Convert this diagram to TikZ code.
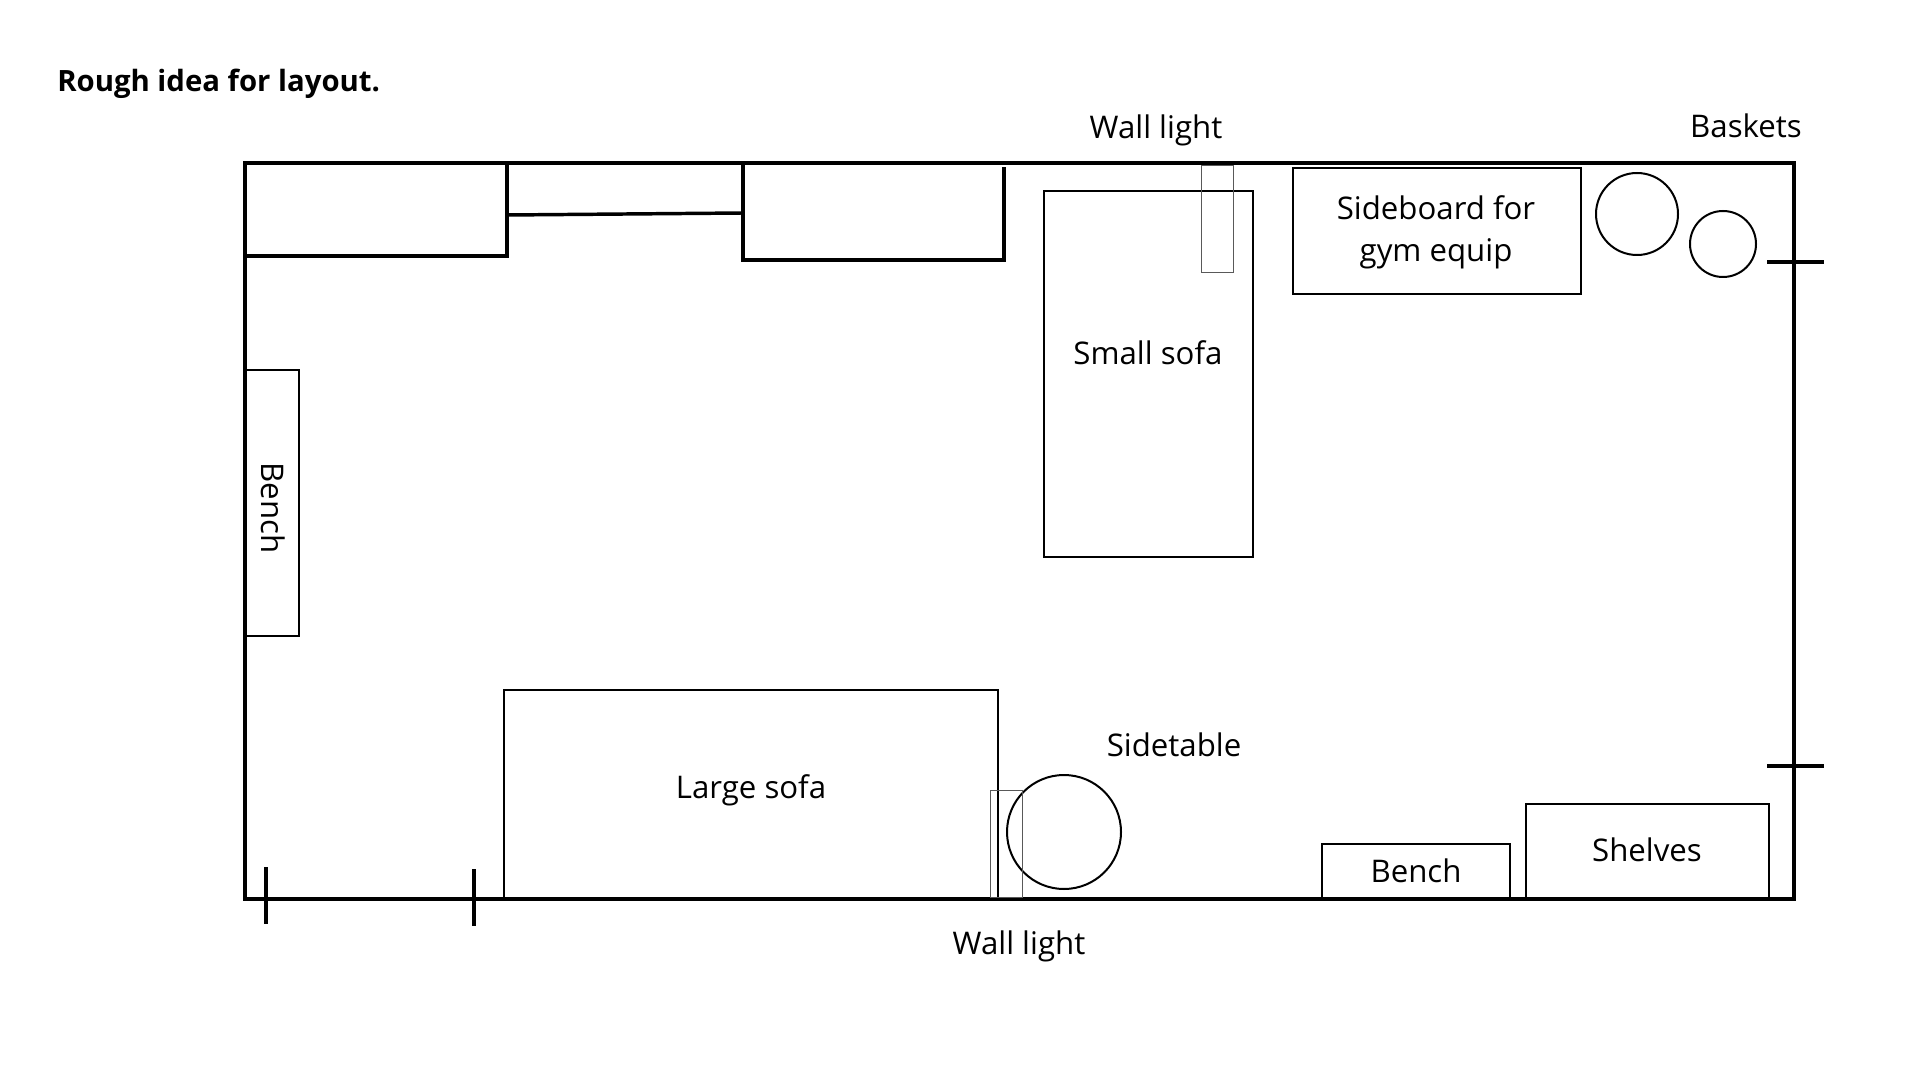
\documentclass[tikz,border=0pt]{standalone}
\usepackage{fontspec}
\setmainfont{Open Sans}
\tikzset{
  wall/.style={line width=3pt,black,line cap=butt,line join=miter},
  inner wall/.style={line width=2.6pt,black,line join=miter},
  furniture/.style={line width=1.5pt,black},
  lamp/.style={line width=0.6pt,black!65},
  label/.style={inner sep=0pt,font=\fontsize{23.4}{28}\selectfont,text=black,align=center},
}
\begin{document}
\begin{tikzpicture}[x=0.75pt,y=-0.75pt]
\useasboundingbox[fill=white] (0,0) rectangle (1920,1080);
% room
\draw[wall] (245,163.5) rectangle (1794,899);
% alcoves along the top wall
\draw[inner wall] (245,256) -- (507,256) -- (507,163.5);
\draw[inner wall] (507,215) -- (743,213);
\draw[inner wall] (743,163.5) -- (743,260) -- (1004,260) -- (1004,167);
% wall ticks
\draw[inner wall] (1767,262) -- (1824,262);
\draw[inner wall] (1767,766) -- (1824,766);
\draw[inner wall] (266,867) -- (266,924);
\draw[inner wall] (474,869) -- (474,926);
% furniture
\draw[furniture] (1044,191) rectangle (1253,557);
\draw[furniture] (1293,168) rectangle (1581,294);
\draw[furniture] (245,370) rectangle (299,636);
\draw[furniture] (504,690) rectangle (998,899);
\draw[furniture] (1322,843.5) rectangle (1510,899);
\draw[furniture] (1526,804) rectangle (1769,899);
\draw[furniture] (1637,214) circle[radius=41];
\draw[furniture] (1723,244) circle[radius=33];
\draw[furniture] (1064,832) circle[radius=57];
% wall lights
\draw[lamp] (1201.5,165) rectangle (1233,272);
\draw[lamp] (990,790) rectangle (1022,897);
% labels
\node[label,font=\fontsize{22}{28}\selectfont\bfseries,anchor=west] (title) at (57,84) {Rough idea for layout.};
\node[label] (walltop) at (1156,130) {Wall light};
\node[label] (baskets) at (1746,126) {Baskets};
\node[label] (sb1) at (1436,208) {Sideboard for};
\node[label] (sb2) at (1436,254) {gym equip};
\node[label] (smallsofa) at (1148,353) {Small sofa};
\node[label,rotate=-90] (benchleft) at (273,508) {Bench};
\node[label] (largesofa) at (751,790) {Large sofa};
\node[label] (sidetable) at (1174,745) {Sidetable};
\node[label] (benchbottom) at (1416,871) {Bench};
\node[label] (shelves) at (1647,850) {Shelves};
\node[label] (wallbottom) at (1019,946) {Wall light};
\end{tikzpicture}
\end{document}
